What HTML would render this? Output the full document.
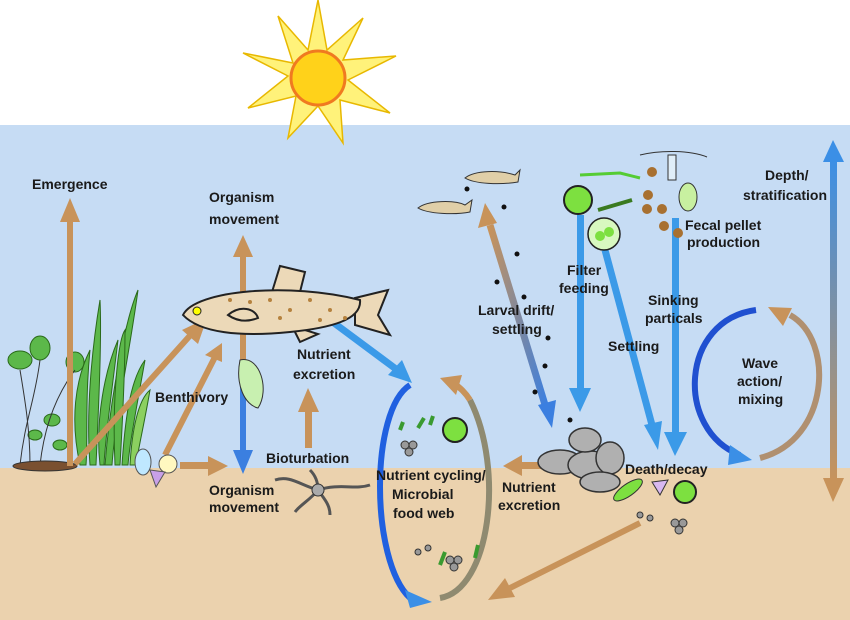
<!DOCTYPE html>
<html><head><meta charset="utf-8"><style>
html,body{margin:0;padding:0;background:#fff}
svg{display:block}
text{font-family:"Liberation Sans",Arial,sans-serif;font-weight:bold;font-size:14px;fill:#1a1a1a}
</style></head><body>
<svg width="850" height="620" viewBox="0 0 850 620" xmlns="http://www.w3.org/2000/svg">
<defs>
<linearGradient id="g1" x1="0" y1="0" x2="0" y2="1"><stop offset="0" stop-color="#3b8fe6"/><stop offset="1" stop-color="#c8935a"/></linearGradient>
<linearGradient id="g2" x1="0" y1="0" x2="1" y2="1"><stop offset="0" stop-color="#c8935a"/><stop offset="1" stop-color="#3b7fe0"/></linearGradient>
</defs>
<rect x="0" y="0" width="850" height="125" fill="#fff"/>
<rect x="0" y="125" width="850" height="344" fill="#c6dcf4"/>
<rect x="0" y="468" width="850" height="152" fill="#ebd2ae"/>
<!-- sun -->
<g transform="translate(318,78)">
<polygon fill="#fff27a" stroke="#e8b800" stroke-width="1.5" points="0,-78 9,-28 45,-60 25,-18 78,-22 30,2 72,35 22,22 25,65 0,28 -30,60 -22,18 -70,30 -30,-2 -75,-25 -25,-15 -40,-62 -10,-28"/>
<circle r="27" fill="#ffd21a" stroke="#f07a20" stroke-width="3"/>
</g>
<!-- plants -->
<g stroke="#2a6a1a" stroke-width="1" fill="#5cb84a">
<path d="M90,465 C85,400 95,330 100,300 C102,340 98,420 96,465Z"/>
<path d="M105,465 C110,400 125,320 138,290 C130,350 115,420 112,465Z"/>
<path d="M115,465 C112,400 118,340 125,330 C125,380 122,430 120,465Z"/>
<path d="M80,465 C70,420 75,380 90,350 C85,400 88,440 86,465Z"/>
<path d="M122,465 C125,420 130,380 145,360 C138,400 130,440 128,465Z"/>
<path d="M100,465 C95,420 105,370 118,340 C112,390 105,440 104,465Z"/>
<path d="M130,465 C132,430 138,400 150,390 C145,420 138,450 136,465Z" fill="#8bd060"/>
<ellipse cx="20" cy="360" rx="12" ry="9"/><ellipse cx="40" cy="348" rx="10" ry="12"/><ellipse cx="75" cy="362" rx="9" ry="10"/>
<ellipse cx="52" cy="420" rx="8" ry="6"/><ellipse cx="35" cy="435" rx="7" ry="5"/><ellipse cx="60" cy="445" rx="7" ry="5"/>
<path d="M20,465 C25,420 35,400 40,360" fill="none" stroke="#333"/>
<path d="M40,465 C45,420 60,390 75,370" fill="none" stroke="#333"/>
<path d="M30,465 C30,430 25,400 20,370" fill="none" stroke="#333"/>
</g>
<ellipse cx="45" cy="466" rx="32" ry="5" fill="#7a5030" stroke="#333"/>
<!-- tan arrows -->
<g fill="#c8935a" stroke="none">
<rect x="67" y="220" width="6" height="246"/><polygon points="60,222 80,222 70,198"/>
<line x1="75" y1="464" x2="195" y2="330" stroke="#c8935a" stroke-width="6"/><polygon points="207,318 182,330 198,344"/>
<line x1="165" y1="455" x2="215" y2="357" stroke="#c8935a" stroke-width="6"/><polygon points="222,343 205,355 222,362"/>
<rect x="180" y="462" width="30" height="7"/><polygon points="208,456 208,476 228,466"/>
<rect x="240" y="255" width="6" height="105"/><polygon points="233,257 253,257 243,235"/>
<rect x="305" y="410" width="7" height="38"/><polygon points="298,412 319,412 308,388"/>
<rect x="520" y="462" width="22" height="7"/><polygon points="522,455 522,476 503,466"/>
<line x1="640" y1="523" x2="510" y2="588" stroke="#c8935a" stroke-width="6"/><polygon points="488,600 515,597 505,578"/>
</g>
<!-- blue arrows -->
<g fill="#3b9ae8">
<rect x="240" y="360" width="6" height="92" fill="#3b7fe0"/><polygon points="233,450 253,450 243,474" fill="#3b7fe0"/>
<line x1="330" y1="320" x2="400" y2="372" stroke="#3b9ae8" stroke-width="7"/><polygon points="412,383 388,375 402,360"/>
<rect x="577" y="215" width="7" height="175"/><polygon points="569,388 591,388 580,412"/>
<line x1="605" y1="250" x2="652" y2="425" stroke="#3b9ae8" stroke-width="7"/><polygon points="658,450 644,425 662,421"/>
<rect x="672" y="218" width="7" height="215"/><polygon points="664,432 687,432 675,456"/>
</g>
<line x1="490" y1="225" x2="546" y2="408" stroke="url(#g2)" stroke-width="7"/>
<polygon points="485,203 478,228 497,223" fill="#c8935a"/>
<polygon points="552,428 538,405 556,400" fill="#3b7fe0"/>
<rect x="830" y="158" width="7" height="325" fill="url(#g1)"/>
<polygon points="823,162 844,162 833,140" fill="#3b8fe6"/>
<polygon points="823,478 844,478 833,502" fill="#c8935a"/>
<!-- cycles -->
<path d="M410,385 C370,410 370,560 410,598" fill="none" stroke="#2060e0" stroke-width="6"/>
<polygon points="432,602 405,590 410,608" fill="#3b8fe6"/>
<path d="M440,598 C490,590 505,470 470,400" fill="none" stroke="#8f8a70" stroke-width="6"/>
<path d="M470,400 C465,392 460,388 455,384" fill="none" stroke="#c8935a" stroke-width="6"/>
<polygon points="440,378 462,375 456,395" fill="#c8935a"/>
<path d="M756,310 C680,320 675,430 740,455" fill="none" stroke="#2050d0" stroke-width="6"/>
<polygon points="752,460 730,445 728,465" fill="#3b8fe6"/>
<path d="M760,458 C830,440 835,340 790,315" fill="none" stroke="#b09070" stroke-width="6"/>
<polygon points="768,307 792,308 783,326" fill="#c8935a"/>
<!-- fish -->
<g stroke="#222" stroke-width="2" fill="#ecd9b8">
<path d="M272,292 L280,266 L305,272 L300,292Z"/>
<path d="M292,326 L300,342 L318,334 Z"/>
<path d="M355,298 L388,290 L378,315 L390,335 L355,325Z"/>
<path d="M183,315 C195,290 290,282 360,300 C362,320 330,328 290,332 C240,337 200,333 183,315Z"/>
<path d="M228,315 C240,305 255,308 258,318 C248,322 238,322 228,315Z"/>
</g>
<circle cx="197" cy="311" r="4" fill="#ff0" stroke="#222"/>
<g fill="#b5823e"><circle cx="250" cy="302" r="2"/><circle cx="270" cy="300" r="2"/><circle cx="290" cy="310" r="2"/><circle cx="310" cy="300" r="2"/><circle cx="330" cy="310" r="2"/><circle cx="345" cy="318" r="2"/><circle cx="230" cy="300" r="2"/><circle cx="280" cy="318" r="2"/><circle cx="320" cy="320" r="2"/></g>
<!-- small fish -->
<g stroke="#333" fill="#e0cfa8"><path d="M465,178 C475,170 500,170 515,175 L520,170 L518,182 C500,185 475,184 465,178Z"/><path d="M418,208 C428,200 455,200 465,205 L472,200 L470,212 C455,215 428,214 418,208Z"/></g>
<!-- daphnia -->
<path d="M240,360 C260,355 270,390 258,408 C245,405 235,385 240,360Z" fill="#c8f0b0" stroke="#333"/>
<!-- plankton -->
<circle cx="578" cy="200" r="14" fill="#7de040" stroke="#222" stroke-width="2"/>
<circle cx="604" cy="234" r="16" fill="#d8f8c0" stroke="#222" stroke-width="1.5"/>
<circle cx="600" cy="236" r="5" fill="#7de040"/><circle cx="609" cy="232" r="5" fill="#7de040"/>
<path d="M580,175 L620,173 L640,178" stroke="#5c3" stroke-width="3" fill="none"/>
<path d="M598,210 L632,200" stroke="#3a7a20" stroke-width="4"/>
<g fill="#a87030"><circle cx="652" cy="172" r="5"/><circle cx="648" cy="195" r="5"/><circle cx="647" cy="209" r="5"/><circle cx="662" cy="209" r="5"/><circle cx="664" cy="226" r="5"/><circle cx="678" cy="233" r="5"/></g>
<rect x="668" y="155" width="8" height="25" fill="#e0eef8" stroke="#333"/>
<path d="M640,155 C660,150 690,150 707,157" stroke="#333" fill="none"/>
<ellipse cx="688" cy="197" rx="9" ry="14" fill="#c8f0a0" stroke="#333"/>
<!-- larval dots -->
<g fill="#111"><circle cx="467" cy="189" r="2.5"/><circle cx="504" cy="207" r="2.5"/><circle cx="517" cy="254" r="2.5"/><circle cx="497" cy="282" r="2.5"/><circle cx="524" cy="297" r="2.5"/><circle cx="548" cy="338" r="2.5"/><circle cx="545" cy="366" r="2.5"/><circle cx="535" cy="392" r="2.5"/><circle cx="570" cy="420" r="2.5"/></g>
<!-- mussels -->
<g fill="#b0b0b0" stroke="#333" stroke-width="1.5">
<ellipse cx="560" cy="462" rx="22" ry="12"/><ellipse cx="590" cy="465" rx="22" ry="14"/><ellipse cx="585" cy="440" rx="16" ry="12"/><ellipse cx="610" cy="458" rx="14" ry="16"/><ellipse cx="600" cy="482" rx="20" ry="10"/>
</g>
<!-- microbes in cycle -->
<g fill="#999" stroke="#333"><circle cx="405" cy="445" r="4"/><circle cx="413" cy="445" r="4"/><circle cx="409" cy="452" r="4"/><circle cx="450" cy="560" r="4"/><circle cx="458" cy="560" r="4"/><circle cx="454" cy="567" r="4"/><circle cx="418" cy="552" r="3"/><circle cx="428" cy="548" r="3"/></g>
<circle cx="455" cy="430" r="12" fill="#7de040" stroke="#222" stroke-width="2"/>
<g stroke="#3a9a30" stroke-width="4"><line x1="400" y1="430" x2="403" y2="422"/><line x1="418" y1="428" x2="424" y2="418"/><line x1="430" y1="425" x2="433" y2="416"/><line x1="440" y1="565" x2="445" y2="552"/><line x1="475" y1="558" x2="478" y2="545"/></g>
<!-- decay organisms -->
<ellipse cx="628" cy="490" rx="17" ry="6" fill="#7de040" stroke="#333" transform="rotate(-35 628 490)"/>
<circle cx="685" cy="492" r="11" fill="#7de040" stroke="#222" stroke-width="2"/>
<polygon points="652,482 668,480 660,495" fill="#d8b8f0" stroke="#333"/>
<g fill="#999" stroke="#333"><circle cx="675" cy="523" r="4"/><circle cx="683" cy="523" r="4"/><circle cx="679" cy="530" r="4"/><circle cx="640" cy="515" r="3"/><circle cx="650" cy="518" r="3"/></g>
<!-- benthic organisms -->
<circle cx="168" cy="464" r="9" fill="#fff8c0" stroke="#555"/>
<polygon points="150,470 165,472 156,487" fill="#c8a0e8" stroke="#555"/>
<ellipse cx="143" cy="462" rx="8" ry="13" fill="#bfe8ff" stroke="#555"/>
<!-- brittle star -->
<g stroke="#555" stroke-width="3" fill="none"><path d="M318,490 C300,485 290,475 275,480"/><path d="M318,490 C340,483 355,490 370,485"/><path d="M318,490 C310,500 300,505 295,512"/><path d="M318,490 C325,500 330,505 330,515"/><path d="M318,490 C318,482 315,475 310,470"/></g>
<circle cx="318" cy="490" r="6" fill="#aaa" stroke="#333"/>
<!-- labels -->
<text x="32" y="189">Emergence</text>
<text x="209" y="202">Organism</text><text x="209" y="224">movement</text>
<text x="155" y="402">Benthivory</text>
<text x="297" y="359">Nutrient</text><text x="293" y="379">excretion</text>
<text x="266" y="463">Bioturbation</text>
<text x="209" y="495">Organism</text><text x="209" y="512">movement</text>
<text x="376" y="480">Nutrient cycling/</text><text x="392" y="499">Microbial</text><text x="393" y="518">food web</text>
<text x="502" y="492">Nutrient</text><text x="498" y="510">excretion</text>
<text x="478" y="315">Larval drift/</text><text x="492" y="334">settling</text>
<text x="567" y="275">Filter</text><text x="559" y="293">feeding</text>
<text x="608" y="351">Settling</text>
<text x="648" y="305">Sinking</text><text x="645" y="323">particals</text>
<text x="685" y="230">Fecal pellet</text><text x="687" y="247">production</text>
<text x="765" y="180">Depth/</text><text x="743" y="200">stratification</text>
<text x="742" y="368">Wave</text><text x="737" y="386">action/</text><text x="738" y="404">mixing</text>
<text x="625" y="474">Death/decay</text>
</svg>
</body></html>
